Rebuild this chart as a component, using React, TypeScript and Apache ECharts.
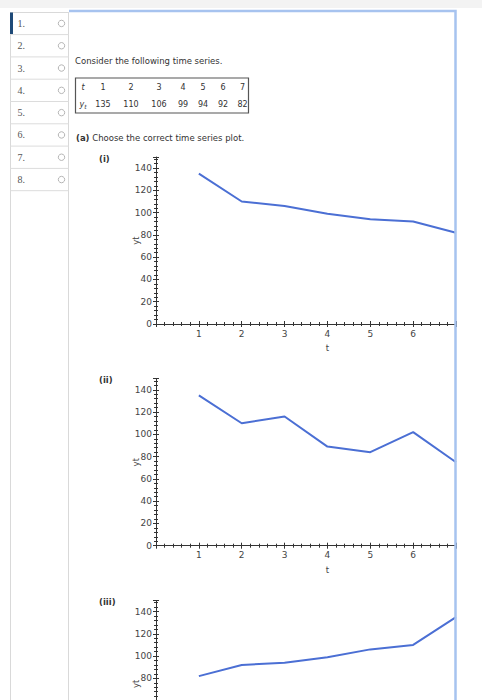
import React, { useEffect, useRef } from 'react';
import * as echarts from 'echarts';

// ---- data ----
const tValues = [1, 2, 3, 4, 5, 6, 7];
const ytValues = [135, 110, 106, 99, 94, 92, 82];
const plotIValues = [135, 110, 106, 99, 94, 92, 82];
const plotIIValues = [135, 110, 116, 89, 84, 102, 75];
const plotIIIValues = [82, 92, 94, 99, 106, 110, 135];
const plotLabels = ['(i)', '(ii)', '(iii)'];
const sidebarItems = ['1.', '2.', '3.', '4.', '5.', '6.', '7.', '8.'];
const questionText = 'Consider the following time series.';
const partText = 'Choose the correct time series plot.';
const yMax = 150;
const yInterval = 20;
const yLabelMax = 140;
const xMax = 7;

// ---- layout ----
const PAGE_H = 700;
const FONT = '"DejaVu Sans", Verdana, sans-serif';
const SERIF = '"Liberation Serif", "DejaVu Serif", serif';
const GRID_LEFT = 156;
const GRID_W = 300;
const GRID_H = 167;
const GRID_TOPS = [157, 378.7, 600.4];
const TABLE_COL_X = [103, 131, 159, 183, 203, 223, 242.5];
const ROW_TOP0 = 12.3;
const ROW_H = 22.3;
const LINE_COLOR = '#4b6fd4';
const AXIS_COLOR = '#333';
const LABEL_COLOR = '#444';

function buildOption() {
  const plots = [plotIValues, plotIIValues, plotIIIValues];
  const grid: any[] = [];
  const xAxis: any[] = [];
  const yAxis: any[] = [];
  const series: any[] = [];

  plots.forEach((vals, k) => {
    const top = GRID_TOPS[k];
    const bottomEdge = top + GRID_H;
    grid.push({ left: GRID_LEFT, top, width: GRID_W, height: GRID_H, outerBoundsMode: 'none', containLabel: false });
    // pixel y of a value in this grid, used only to hide labels that fall off the page
    const yPix = (v: number) => bottomEdge - (v / yMax) * GRID_H;
    const xLabelsVisible = bottomEdge + 12 < PAGE_H;
    const xBase = {
      type: 'value', gridIndex: k, min: 0, max: xMax, interval: 1, position: 'bottom',
      splitLine: { show: false },
    };
    xAxis.push({
      ...xBase,
      axisLine: { show: true, onZero: false, lineStyle: { color: AXIS_COLOR, width: 1 } },
      axisTick: { show: true, length: 3, lineStyle: { color: AXIS_COLOR } },
      minorTick: { show: true, splitNumber: 5, length: 2, lineStyle: { color: AXIS_COLOR } },
      axisLabel: {
        show: xLabelsVisible,
        margin: 5, fontSize: 9, color: LABEL_COLOR, fontFamily: FONT,
        formatter: (v: number) => (v >= 1 && v < xMax ? String(v) : ''),
      },
    });
    xAxis.push({
      ...xBase,
      axisLine: { show: false },
      axisTick: { show: true, inside: true, length: 3, lineStyle: { color: AXIS_COLOR } },
      minorTick: { show: true, splitNumber: 5, length: 2, lineStyle: { color: AXIS_COLOR } },
      axisLabel: { show: false },
    });
    const yBase = {
      type: 'value', gridIndex: k, min: 0, max: yMax, interval: yInterval, position: 'left',
      splitLine: { show: false },
    };
    yAxis.push({
      ...yBase,
      name: 'yt', nameLocation: 'middle', nameGap: 16, nameMoveOverlap: false,
      nameTextStyle: { fontSize: 8.5, color: LABEL_COLOR, fontFamily: FONT },
      axisLine: { show: true, onZero: false, lineStyle: { color: AXIS_COLOR, width: 1 } },
      axisTick: { show: true, length: 3, lineStyle: { color: AXIS_COLOR } },
      minorTick: { show: true, splitNumber: 5, length: 2, lineStyle: { color: AXIS_COLOR } },
      axisLabel: {
        margin: 4, fontSize: 9, color: LABEL_COLOR, fontFamily: FONT,
        formatter: (v: number) => (v <= yLabelMax && yPix(v) + 5 < PAGE_H ? String(v) : ''),
      },
    });
    yAxis.push({
      ...yBase,
      axisLine: { show: false },
      axisTick: { show: true, inside: true, length: 3, lineStyle: { color: AXIS_COLOR } },
      minorTick: { show: true, splitNumber: 5, length: 2, lineStyle: { color: AXIS_COLOR } },
      axisLabel: { show: false },
    });
    series.push({
      type: 'line', xAxisIndex: 2 * k, yAxisIndex: 2 * k,
      data: tValues.map((t, i) => [t, vals[i]]),
      symbol: 'none', color: LINE_COLOR,
      lineStyle: { color: LINE_COLOR, width: 2 },
      silent: true,
    });
  });

  const elements: any[] = [];
  // top band
  elements.push({ type: 'rect', shape: { x: 0, y: 0, width: 482, height: 8 }, style: { fill: '#f3f3f3' } });
  // sidebar
  elements.push({ type: 'line', shape: { x1: 10.5, y1: 12, x2: 10.5, y2: PAGE_H }, style: { stroke: '#d9d9d9', lineWidth: 1 } });
  elements.push({ type: 'line', shape: { x1: 68.5, y1: 12, x2: 68.5, y2: PAGE_H }, style: { stroke: '#d9d9d9', lineWidth: 1 } });
  elements.push({ type: 'line', shape: { x1: 10, y1: 12.5, x2: 69, y2: 12.5 }, style: { stroke: '#d9d9d9', lineWidth: 1 } });
  sidebarItems.forEach((label, i) => {
    const top = ROW_TOP0 + i * ROW_H;
    const cy = top + ROW_H / 2;
    elements.push({ type: 'line', shape: { x1: 10, y1: top + ROW_H, x2: 69, y2: top + ROW_H }, style: { stroke: '#dcdcdc', lineWidth: 1 } });
    elements.push({
      type: 'text', x: 17.5, y: cy,
      style: { text: label, fontFamily: SERIF, fontSize: 10, fill: '#555', align: 'left', verticalAlign: 'middle' },
    });
    elements.push({ type: 'circle', shape: { cx: 61.5, cy, r: 3.2 }, style: { fill: '#fff', stroke: '#b5b5b5', lineWidth: 1 } });
  });
  elements.push({ type: 'rect', shape: { x: 10, y: 12.5, width: 3, height: 21.5 }, style: { fill: '#1f4a78' } });
  // blue panel border
  elements.push({
    type: 'polyline', shape: { points: [[69, 11], [455.5, 11], [455.5, PAGE_H]] },
    style: { stroke: '#a7c3ef', lineWidth: 2.5, fill: 'none' }, z: 100,
  });
  // question text
  elements.push({
    type: 'text', x: 75, y: 61,
    style: { text: questionText, fontFamily: FONT, fontSize: 8.5, fill: '#333', align: 'left', verticalAlign: 'middle' },
  });
  // table
  elements.push({ type: 'rect', shape: { x: 75.5, y: 78, width: 173, height: 35 }, style: { fill: 'none', stroke: '#555', lineWidth: 1.2 } });
  elements.push({
    type: 'text', x: 83, y: 87,
    style: { text: 't', fontFamily: FONT, fontSize: 8, fontStyle: 'italic', fill: '#333', align: 'center', verticalAlign: 'middle' },
  });
  elements.push({
    type: 'text', x: 83, y: 104.5,
    style: {
      text: '{y|y}{s|t}', fontFamily: FONT, fill: '#333', align: 'center', verticalAlign: 'middle',
      rich: {
        y: { fontFamily: FONT, fontSize: 8, fontStyle: 'italic', fill: '#333' },
        s: { fontFamily: FONT, fontSize: 6, fontStyle: 'italic', fill: '#333', padding: [3, 0, 0, 0] },
      },
    },
  });
  tValues.forEach((t, i) => {
    elements.push({
      type: 'text', x: TABLE_COL_X[i], y: 87,
      style: { text: String(t), fontFamily: FONT, fontSize: 8, fill: '#333', align: 'center', verticalAlign: 'middle' },
    });
    elements.push({
      type: 'text', x: TABLE_COL_X[i], y: 104.5,
      style: { text: String(ytValues[i]), fontFamily: FONT, fontSize: 8, fill: '#333', align: 'center', verticalAlign: 'middle' },
    });
  });
  // part (a)
  elements.push({
    type: 'text', x: 76, y: 137.5,
    style: {
      text: '{b|(a)} ' + partText, fontFamily: FONT, fontSize: 8.5, fill: '#333', align: 'left', verticalAlign: 'middle',
      rich: { b: { fontFamily: FONT, fontSize: 8.5, fontWeight: 'bold', fill: '#333' } },
    },
  });
  // plot labels and x-axis titles
  plotLabels.forEach((lab, k) => {
    elements.push({
      type: 'text', x: 99, y: GRID_TOPS[k] + 1.5,
      style: { text: lab, fontFamily: FONT, fontSize: 8.5, fontWeight: 'bold', fill: '#333', align: 'left', verticalAlign: 'middle' },
    });
    const titleY = GRID_TOPS[k] + GRID_H + 24;
    if (titleY + 6 < PAGE_H) {
      elements.push({
        type: 'text', x: GRID_LEFT + (4 / xMax) * GRID_W, y: titleY,
        style: { text: 't', fontFamily: FONT, fontSize: 8.5, fill: LABEL_COLOR, align: 'center', verticalAlign: 'middle' },
      });
    }
  });

  return {
    animation: false,
    backgroundColor: '#fff',
    textStyle: { fontFamily: FONT },
    grid, xAxis, yAxis, series,
    graphic: { elements },
  };
}

export default function App() {
  const ref = useRef<HTMLDivElement>(null);
  useEffect(() => {
    if (!ref.current) return;
    const chart = echarts.init(ref.current, null, { renderer: 'svg' });
    chart.setOption(buildOption() as any);
    return () => chart.dispose();
  }, []);
  return (
    <div
      ref={ref}
      style={{ position: 'fixed', left: 0, top: 0, width: 482, height: PAGE_H, background: '#fff' }}
    />
  );
}
